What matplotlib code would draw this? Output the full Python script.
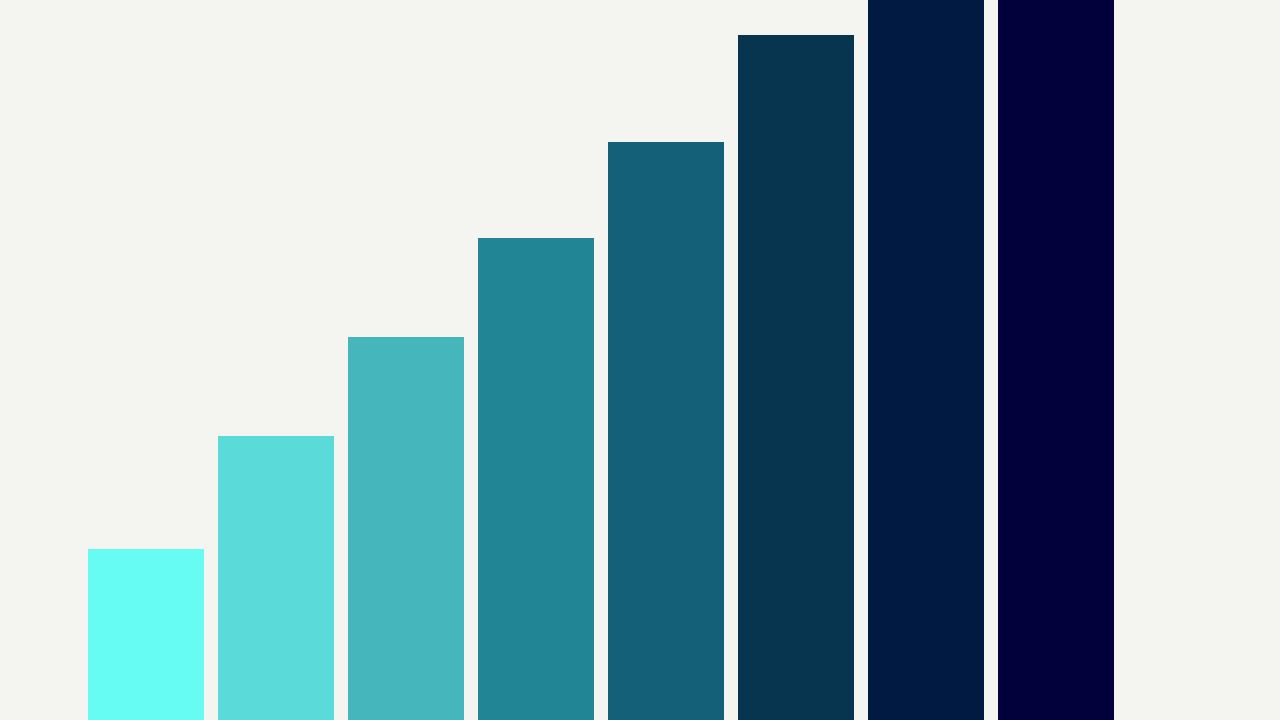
import matplotlib
matplotlib.use('Agg')
import matplotlib.pyplot as plt

# bar heights (last two run off the top of the frame)
categories = ['1', '2', '3', '4', '5', '6', '7', '8']
values = [171, 284, 383, 482, 578, 685, 790, 890]
colors = ['#66fcf4', '#5adad9', '#45b7bc', '#228595', '#136078',
          '#07344f', '#011a41', '#03013b']

fig = plt.figure(figsize=(12.8, 7.2), dpi=100)
fig.patch.set_facecolor('#f4f4f0')
ax = fig.add_axes([0, 0, 1, 1])
ax.set_facecolor('#f4f4f0')

x = list(range(len(categories)))
ax.bar(x, values, width=116 / 130, color=colors, linewidth=0)

ax.set_xlim(-146 / 130, (1280 - 146) / 130)
ax.set_ylim(0, 720)
ax.axis('off')

plt.savefig('out.png', dpi=100, facecolor=fig.get_facecolor())
